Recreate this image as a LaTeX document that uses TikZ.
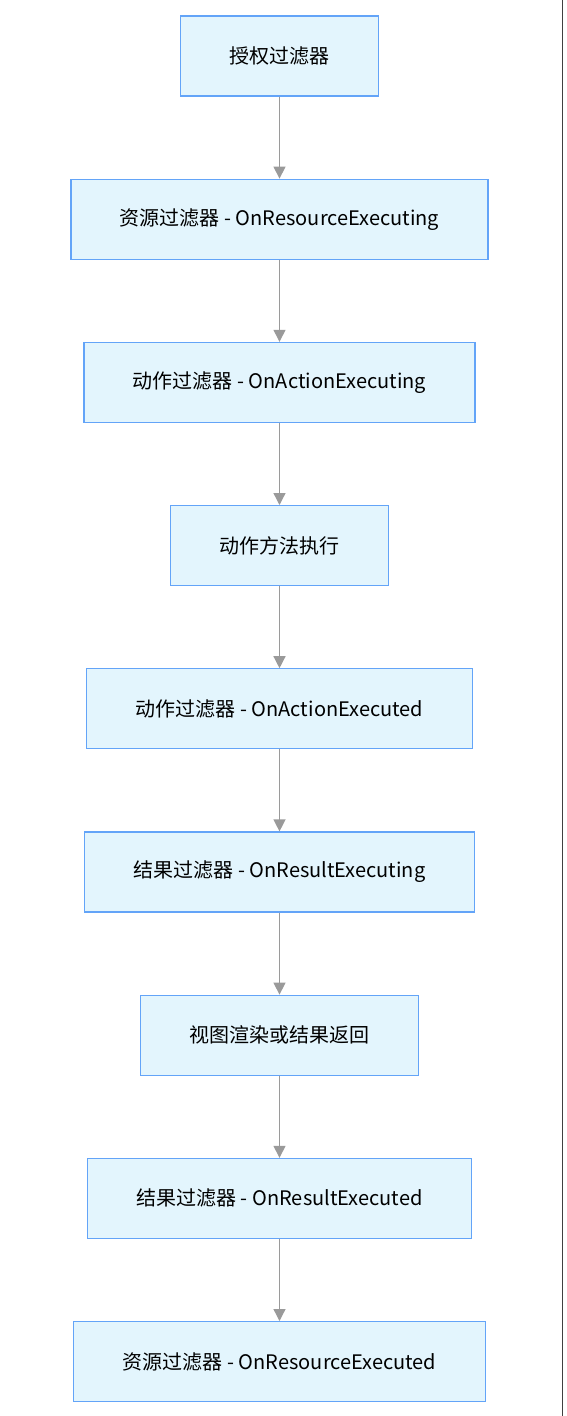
\documentclass[tikz,border=0pt]{standalone}
\usepackage{fontspec}
\setmainfont{Noto Sans CJK SC}
\usepackage{tikz}
\usetikzlibrary{arrows.meta, positioning}

\definecolor{boxfill}{HTML}{E3F5FD}
\definecolor{boxline}{HTML}{63A4F8}
\definecolor{edgegray}{HTML}{9A9A9A}

\begin{document}
\begin{tikzpicture}[x=1pt, y=1pt, node distance = 82pt,
    filter/.style = {draw=boxline, line width=1.2pt, fill=boxfill, minimum height=80pt, inner xsep=49pt, font=\fontsize{20}{24}\selectfont},
    flow/.style = {draw=edgegray, line width=1.3pt, -{Triangle[width=12pt, length=12pt]}}]
    \useasboundingbox (0,0) rectangle (566,-1416);
    \node[filter] (auth) at (279.5,-56) {授权过滤器}; % top
    \node[filter, below=of auth] (resin) {资源过滤器 - OnResourceExecuting};
    \node[filter, below=of resin] (actin) {动作过滤器 - OnActionExecuting};
    \node[filter, below=of actin] (method) {动作方法执行};
    \node[filter, below=of method] (actout) {动作过滤器 - OnActionExecuted};
    \node[filter, below=of actout] (resultin) {结果过滤器 - OnResultExecuting};
    \node[filter, below=of resultin] (view) {视图渲染或结果返回};
    \node[filter, below=of view] (resultout) {结果过滤器 - OnResultExecuted};
    \node[filter, below=of resultout] (resout) {资源过滤器 - OnResourceExecuted}; % bottom
    \foreach \a/\b in {auth/resin, resin/actin, actin/method, method/actout, actout/resultin, resultin/view, view/resultout, resultout/resout}
      \draw[flow] (\a) -- (\b);
    % page edge
    \draw[line width=1pt, black!75] (562,0) -- (562,-1416);
\end{tikzpicture}
\end{document}
